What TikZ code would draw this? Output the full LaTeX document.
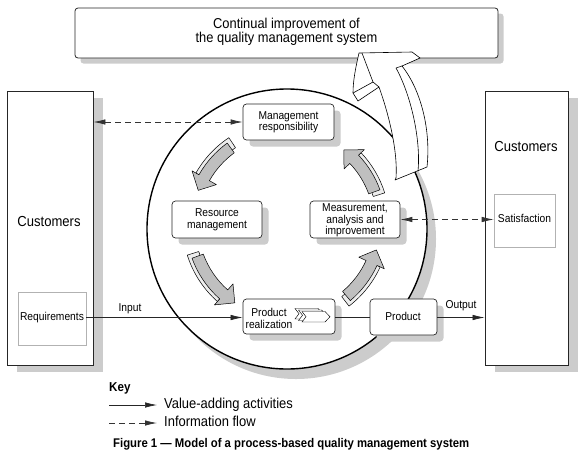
\documentclass[tikz,border=0pt]{standalone}
\usepackage{fontspec}
\setmainfont{Liberation Sans}[FakeStretch=0.9]
\usetikzlibrary{arrows.meta,shadows}
\definecolor{shd}{gray}{0.80}
\definecolor{arrg}{gray}{0.75}
\definecolor{arrs}{gray}{0.93}
\newcommand\qmsCycleArrow[2]{%
  \begin{scope}[shift={(286,224)}]
    \pgfmathsetmacro\qmsH{#2+8.5}
    \pgfmathsetmacro\qmsT{#1+2.5}
    \filldraw[arrside] (\qmsT:103.5) arc[start angle=\qmsT, end angle=\qmsH, radius=103.5]
      -- (\qmsH:91.5) arc[start angle=\qmsH, end angle=\qmsT, radius=91.5] -- cycle;
    \filldraw[arrmain] (#1:100) arc[start angle=#1, end angle=\qmsH, radius=100]
      -- (\qmsH:108) -- (#2:94) -- (\qmsH:80) -- (\qmsH:88)
      arc[start angle=\qmsH, end angle=#1, radius=88] -- cycle;
  \end{scope}}
\begin{document}
\begin{tikzpicture}[x=1pt,y=-1pt,
  >={Latex[length=12pt,width=5.5pt]},
  boxbase/.style={draw=black!85, line width=0.8pt, fill=white, inner sep=0pt},
  bigshadow/.style={drop shadow={shadow xshift=10pt, shadow yshift=-7pt, fill=shd, opacity=1}},
  prbox/.style={boxbase, line width=0.7pt, rounded corners=3.5pt,
     drop shadow={shadow xshift=6.5pt, shadow yshift=-6.5pt, fill=shd, opacity=1}},
  lightbox/.style={draw=black!30, line width=0.6pt, fill=white, inner sep=0pt},
  smalltxt/.style={font=\fontsize{11.4}{11.7}\selectfont, align=center, inner sep=0pt},
  bigtxt/.style={font=\fontsize{14.5}{16}\selectfont, inner sep=0pt},
  toptxt/.style={font=\fontsize{14.3}{14}\selectfont, align=center, inner sep=0pt},
  keytxt/.style={font=\fontsize{14.4}{16}\selectfont, inner sep=0pt},
  keyhead/.style={font=\bfseries\fontsize{12.9}{14}\selectfont, inner sep=0pt},
  captxt/.style={font=\bfseries\fontsize{12.6}{14}\selectfont, inner sep=0pt},
  flow/.style={draw=black!85, line width=0.65pt, ->},
  info/.style={draw=black!80, line width=0.75pt, dash pattern=on 6pt off 4pt},
  arrmain/.style={fill=arrg, draw=black, line width=0.5pt, line join=round},
  arrside/.style={fill=arrs, draw=black, line width=0.5pt, line join=round},
  bigarrow/.style={fill=white, draw=black, line width=0.6pt, line join=round},
  bigarrowline/.style={draw=black, line width=0.6pt},
  chev/.style={fill=white, draw=black, line width=0.45pt, line join=miter}
]
\useasboundingbox (0,0) rectangle (585,461);

% customers boxes
\node[boxbase, bigshadow, minimum width=86pt, minimum height=274pt] (lc) at (50,228) {};
\node[boxbase, bigshadow, minimum width=83pt, minimum height=274pt] (rc) at (526.5,228) {};
\node[bigtxt, anchor=base] (lct) at (49,226.7) {Customers};
\node[bigtxt, anchor=base] (rct) at (526,151.7) {Customers};
\node[lightbox, minimum width=68pt, minimum height=53pt] (req) at (52,318.5) {};
\node[smalltxt, anchor=base] (reqt) at (52,320.7) {Requirements};
\node[lightbox, minimum width=61pt, minimum height=53pt] (sat) at (524.5,220.5) {};
\node[smalltxt, anchor=base] (satt) at (524.5,222.7) {Satisfaction};

% top box
\node[boxbase, rounded corners=3pt,
  drop shadow={shadow xshift=5.5pt, shadow yshift=-5.5pt, fill=shd, opacity=1},
  minimum width=423pt, minimum height=50pt] (top) at (286.5,33) {};
\node[toptxt, anchor=north] (toptext) at (286.5,18.2)
  {Continual improvement of\\the quality management system};

% ring
\node[circle, draw=black, line width=1.4pt, fill=white, minimum size=280pt, inner sep=0pt,
  drop shadow={shadow xshift=9pt, shadow yshift=-10pt, fill=shd, opacity=1}] (ring) at (287,229) {};

% process boxes
\node[prbox, minimum width=91pt, minimum height=36pt] (mr) at (288.5,122) {};
\node[smalltxt, anchor=north] (mrt) at (288.5,111) {Management\\responsibility};
\node[prbox, minimum width=90pt, minimum height=37pt] (rm) at (217,219.5) {};
\node[smalltxt, anchor=north] (rmt) at (217,208.3) {Resource\\management};
\node[prbox, minimum width=90pt, minimum height=37pt] (mai) at (355,219.5) {};
\node[smalltxt, anchor=north] (mait) at (355,203.3) {Measurement,\\analysis and\\improvement};
\node[prbox, minimum width=92pt, minimum height=35pt] (pr) at (289,316.5) {};
\node[smalltxt, anchor=north] (prt) at (269,308.5) {Product\\realization};
\node[prbox, minimum width=67pt, minimum height=36pt] (prod) at (403.5,317) {};
\node[smalltxt, anchor=base] (prodt) at (403,320.6) {Product};

% chevrons in product realization
\foreach \dx/\dy in {-7/-3, -3.5/-1.5, 0/0} {
  \filldraw[chev, shift={(\dx,\dy)}] (302,311.5) -- (325,311.5) -- (330,316.75) -- (325,322)
     -- (302,322) -- (306,316.75) -- cycle;
}

% cycle arrows
\qmsCycleArrow{-126}{-159}
\qmsCycleArrow{-200}{-237}
\qmsCycleArrow{-310}{-344}
\qmsCycleArrow{-20}{-52}

% connectors
\coordinate (iny) at (0,317.5);
\draw[flow] (req.east |- iny) -- (pr.west |- iny);
\draw[draw=black!85, line width=0.65pt] (pr.east |- iny) -- (prod.west |- iny);
\draw[flow] (prod.east |- iny) -- (rc.west |- iny);
\node[smalltxt, anchor=base] (inl) at (130,311.7) {Input};
\node[smalltxt, anchor=base] (outl) at (461,308.7) {Output};
\draw[info, <->] (lc.east |- mr.west) -- (mr.west);
\draw[info, <->] (mai.east) -- (mai.east -| sat.west);

% big improvement arrow
\filldraw[bigarrow] (359,53) .. controls (356,66) and (353,80) .. (353,93)
  -- (358,101) -- (379,87)
  .. controls (388,112) and (398,150) .. (396,178)
  -- (395,180) -- (427,167)
  .. controls (431,130) and (421,90) .. (402,66)
  -- (420,58) -- (412,52) -- cycle;
\draw[bigarrowline] (362,53) -- (373,82) -- (379,87);
\draw[bigarrowline] (373,82) -- (353,93);
\draw[bigarrowline] (396,68) .. controls (411,95) and (421,140) .. (418,171);
\draw[bigarrowline] (396,68) -- (402,66);

% key
\node[keyhead, anchor=base west] (key) at (109,391.7) {Key};
\coordinate (k1a) at (109,405);
\coordinate (k1b) at (157,405);
\draw[flow] (k1a) -- (k1b);
\node[keytxt, anchor=base west] (k1t) at (164,408.5) {Value-adding activities};
\coordinate (k2a) at (109,423);
\coordinate (k2b) at (157,423);
\draw[info, dash pattern=on 5.7pt off 4.3pt, ->] (k2a) -- (k2b);
\node[keytxt, anchor=base west] (k2t) at (164,426.7) {Information flow};
\node[captxt, anchor=base west] (cap) at (113,447.7)
  {Figure 1 — Model of a process-based quality management system};
\end{tikzpicture}
\end{document}
